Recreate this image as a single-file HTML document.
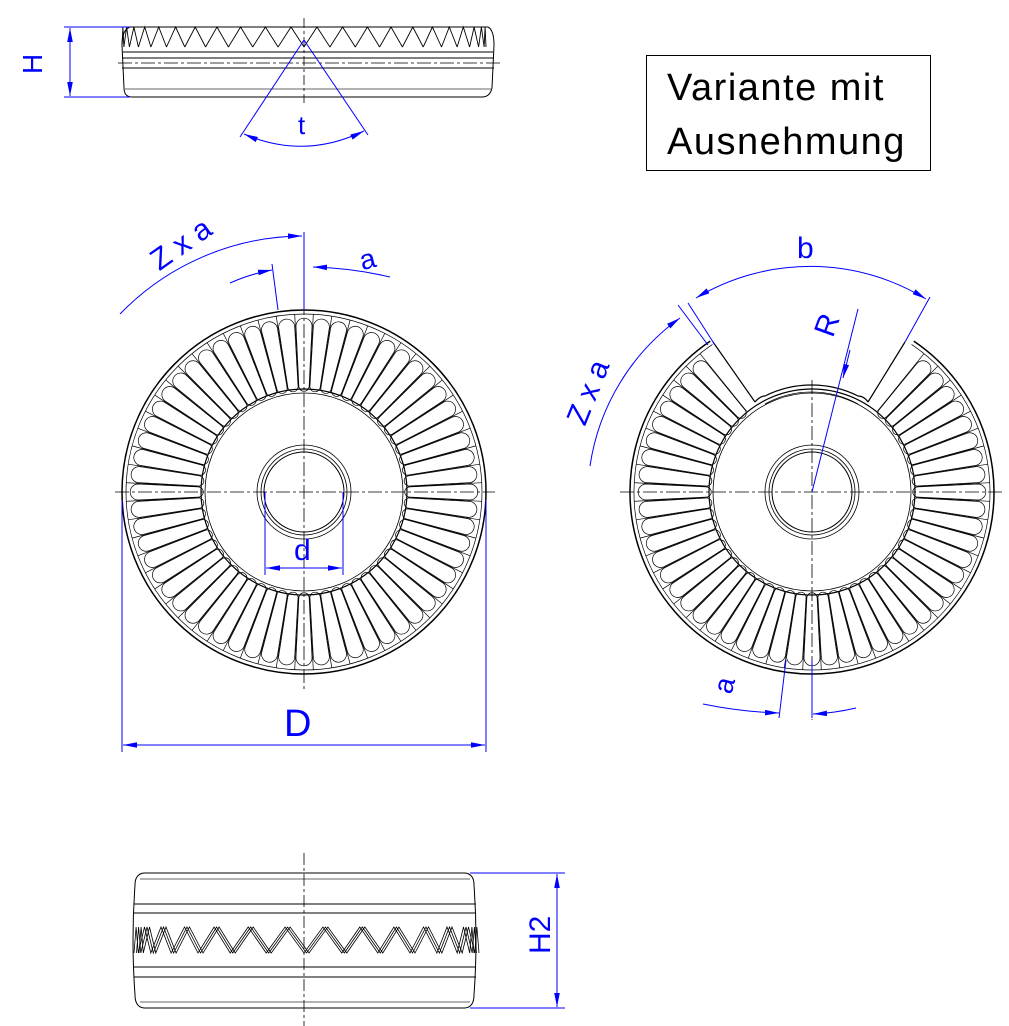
<!DOCTYPE html>
<html><head><meta charset="utf-8"><style>
html,body{margin:0;padding:0;background:#fff;}
svg{display:block;}
text{font-family:"Liberation Sans",sans-serif;}
</style></head><body>
<svg id="s" width="1009" height="1026" viewBox="0 0 1009 1026" xmlns="http://www.w3.org/2000/svg">
<defs>
<marker id="ar" viewBox="0 0 10 4" refX="10" refY="2" markerWidth="14" markerHeight="5.6" markerUnits="userSpaceOnUse" orient="auto-start-reverse"><path d="M0,0L10,2L0,4z" fill="#0000ff"/></marker>
</defs>
<g id="g" fill="none" stroke="#000" stroke-width="1"></g>
<g id="b" fill="none" stroke="#0000ff" stroke-width="1"></g>
<rect x="646.5" y="55.5" width="284" height="115" fill="none" stroke="#000" stroke-width="1"/>
<text x="667" y="100" font-size="38" letter-spacing="1.5">Variante mit</text>
<text x="667" y="154" font-size="38" letter-spacing="1.5">Ausnehmung</text>
<g fill="#0000ff" font-size="30">
<text x="28" y="64" transform="rotate(-90 40 62)" font-size="28">H</text>
<text x="298" y="134" font-size="26">t</text>
<text x="150" y="268" transform="rotate(-35 160 255)">Z x a</text>
<text x="360" y="268" transform="rotate(-15 370 260)" font-size="28">a</text>
<text x="294" y="560" font-size="30">d</text>
<text x="284" y="736" font-size="38">D</text>
<text x="797" y="258" font-size="30">b</text>
<text x="812" y="335" transform="rotate(-70 825 322)" font-size="30">R</text>
<text x="560" y="410" transform="rotate(-68 585 400)">Z x a</text>
<text x="712" y="690" transform="rotate(-75 725 680)" font-size="28">a</text>
<text x="526" y="950" transform="rotate(-90 540 940)" font-size="30">H2</text>
</g>
</svg>
<script>
var NS="http://www.w3.org/2000/svg",G=document.getElementById('g'),B=document.getElementById('b');
function el(p,t,a){var e=document.createElementNS(NS,t);for(var k in a)e.setAttribute(k,a[k]);p.appendChild(e);return e;}
function L(p,x1,y1,x2,y2,ex){var a={x1:x1,y1:y1,x2:x2,y2:y2};for(var k in ex)a[k]=ex[k];return el(p,'line',a);}
function C(p,cx,cy,r,ex){var a={cx:cx,cy:cy,r:r};for(var k in ex)a[k]=ex[k];return el(p,'circle',a);}
function P(p,d,ex){var a={d:d};for(var k in ex)a[k]=ex[k];return el(p,'path',a);}
var CL={'stroke-dasharray':'14,3,3,3','stroke-width':0.8};
function pt(cx,cy,r,a){return [cx+r*Math.cos(a),cy+r*Math.sin(a)];}
function face(cx,cy,skip){
 var N=60,st=2*Math.PI/N,off=-Math.PI/2+st/2;
 for(var i=0;i<N;i++){
  var t=off+i*st;
  if(skip&&skip(t))continue;
  var a=pt(cx,cy,104,t),b=pt(cx,cy,178,t);
  L(G,a[0].toFixed(1),a[1].toFixed(1),b[0].toFixed(1),b[1].toFixed(1),{'stroke-width':0.7});
  if(skip&&skip(t+st))continue;
  var d=0.004,t1=t+d,t2=t+st-d;
  var p1=pt(cx,cy,106,t1),p2=pt(cx,cy,166,t1),p3=pt(cx,cy,166,t2),p4=pt(cx,cy,106,t2);
  var w=Math.hypot(p2[0]-p3[0],p2[1]-p3[1])/2;
  P(G,'M'+p1+'L'+p2+'A'+w+','+w+' 0 0 1 '+p3+'L'+p4+'A3,3 0 0 1 '+p1,{'stroke-width':0.7});
 }
 C(G,cx,cy,103,{'stroke-width':1.2});C(G,cx,cy,99,{'stroke-width':0.8});
 C(G,cx,cy,47,{'stroke-width':0.8});C(G,cx,cy,43,{'stroke-width':0.8});C(G,cx,cy,40,{'stroke-width':1});
}
face(304,492,null);
C(G,304,492,182,{'stroke-width':1.5});C(G,304,492,178,{'stroke-width':0.7});
L(G,115,492,495,492,CL);L(G,304,232,304,692,CL);
var a1=-124*Math.PI/180,a2=-56*Math.PI/180;
face(812,492,function(t){var x=Math.atan2(Math.sin(t),Math.cos(t));return x>a1-0.01&&x<a2+0.01;});
function arcP(cx,cy,r,s,e){var p=pt(cx,cy,r,s),q=pt(cx,cy,r,e);return 'M'+p+'A'+r+','+r+' 0 1 1 '+q;}
P(G,arcP(812,492,182,a2,a1+2*Math.PI),{'stroke-width':1.5});
P(G,arcP(812,492,178,a2,a1+2*Math.PI),{'stroke-width':0.7});
P(G,'M713,342L755,402 M905,342L868,402',{'stroke-width':1.2});
P(G,'M755,402 Q760,396 765,396 A104,104 0 0 1 858,396 Q864,396 868,402',{'stroke-width':1.2});
P(G,'M765,404 A96,96 0 0 1 858,404',{'stroke-width':0.8});
L(G,620,492,1002,492,CL);L(G,812,380,812,720,CL);
// top side view
P(G,'M130,27 L488,27 Q494,30 494,45 L492,88 Q490,97 482,97 L132,97 Q124,97 124,88 L122,45 Q122,30 130,27',{'stroke-width':1});
L(G,123,52,493,52);L(G,122,58,494,58);L(G,122,68,494,68);L(G,125,89,491,89,{stroke:'#666'});
L(G,118,63,500,63,{'stroke-dasharray':'14,3,3,3','stroke-width':0.8});L(G,304,18,304,103,{'stroke-dasharray':'10,3,3,3','stroke-width':0.8});
(function(){var N=44,st=2*Math.PI/N,d='';
 for(var i=0;i<N/2;i++){var x1=304+182*Math.sin(-Math.PI/2+i*st),x2=304+182*Math.sin(-Math.PI/2+(i+1)*st);var xm=(x1+x2)/2;
  d+='M'+x1.toFixed(1)+',47L'+xm.toFixed(1)+',27L'+x2.toFixed(1)+',47';}
 P(G,d,{'stroke-width':0.9});})();
// bottom side view
P(G,'M144,873 L465,873 Q474,874 474,885 Q478,940 474,995 Q474,1007 465,1008 L144,1008 Q135,1007 135,995 Q131,940 135,885 Q135,874 144,873',{'stroke-width':1});
L(G,140,879,470,879,{stroke:'#666'});L(G,134,904,476,904);L(G,134,913,476,913);L(G,134,967,476,967);L(G,134,977,476,977);L(G,140,1002,470,1002,{stroke:'#666'});
L(G,304,853,304,1026,{'stroke-dasharray':'12,3,3,3','stroke-width':0.8});
(function(){var N=28,st=2*Math.PI/N;for(var k=0;k<3;k++){var d='';for(var i=0;i<N/2;i++){var x1=304+170*Math.sin(-Math.PI/2+i*st)+k*2.5,x2=304+170*Math.sin(-Math.PI/2+(i+1)*st)+k*2.5;var xm=(x1+x2)/2;
 d+=(i==0?'M':'L')+x1.toFixed(1)+',953L'+xm.toFixed(1)+',927';} d+='L'+(304+170+k*2.5).toFixed(1)+',953';P(G,d,{'stroke-width':0.8});}})();
var M={'marker-end':'url(#ar)'},MM={'marker-start':'url(#ar)','marker-end':'url(#ar)'};
L(B,64,27,130,27);L(B,64,97,130,97);L(B,70,28,70,96,MM);
L(B,304,40,240,137);L(B,304,40,368,135);P(B,'M244,134 Q304,160 364,131',MM);
P(B,'M120,314 A256,256 0 0 1 302,236',M);
L(B,278,310,272,264);P(B,'M230,283 Q250,274 272,270',M);P(B,'M390,277 Q352,268 313,267',M);
L(B,304,232,304,310);
L(B,265,492,265,575);L(B,343,492,343,575);L(B,266,568,342,568,MM);
L(B,122,500,122,752);L(B,486,500,486,752);L(B,123,745,485,745,MM);
L(B,688,303,715,345);L(B,678,305,708,345);L(B,930,297,905,342);
P(B,'M696,298 A222,222 0 0 1 926,299',MM);
P(B,'M590,466 A222,222 0 0 1 680,318',M);
L(B,858,309,812,492);P(B,'M850,350L843,378',M);
L(B,786,660,779,718);L(B,812,660,812,718);
P(B,'M703,704 Q742,712 779,713',M);P(B,'M856,708 Q835,713 813,714',M);
L(B,470,873,565,873);L(B,470,1008,565,1008);L(B,557,874,557,1007,MM);
</script>
</body></html>
